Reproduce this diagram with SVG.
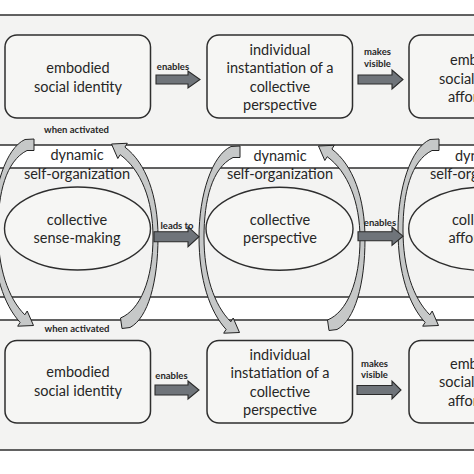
<svg xmlns="http://www.w3.org/2000/svg" width="474" height="474" viewBox="0 0 474 474">
<style>
.band{fill:#f3f3f2}
.hl{stroke:#2e2e2e;stroke-width:1.6;fill:none}
.box{fill:#f6f6f4;stroke:#2e2e2e;stroke-width:1.5}
.ell{fill:#f6f6f4;stroke:#2e2e2e;stroke-width:1.4}
.t{font-family:Lato,"Liberation Sans",sans-serif;font-size:14.5px;fill:#262626;text-anchor:middle}
.ts{font-family:Lato,"Liberation Sans",sans-serif;font-size:14.5px;fill:#262626;text-anchor:start}
.lab{font-family:Lato,"Liberation Sans",sans-serif;font-size:9.5px;font-weight:bold;fill:#262626;text-anchor:middle}
.blk{fill:#6f747a;stroke:#2a2a2a;stroke-width:1.1}
.crv{fill:#c6c8c8;stroke:#222;stroke-width:1}
</style>
<defs>
<path id="arcL" class="crv" d="M 240,146 L 231,146.5 C 212,155 199,195 199,237 C 199,280 210,312 226.1,329.4 L 223.7,333.2 L 239.5,332.5 L 233.2,318 L 230.8,321.8 C 214,305 204,275 204,237 C 204,200 212,168 233,157.5 L 240,157.5 Z"/>
<path id="arcR" class="crv" d="M 122,328.5 L 130,327.5 C 148,318 158,282 158,237 C 158,196 146,163 124.9,147.1 L 127.3,143.25 L 111.5,144 L 117.8,158.5 L 120.2,154.7 C 141,170 153,200 153,237 C 153,280 140,310 120.5,318 Z"/>
</defs>
<rect width="474" height="474" fill="#ffffff"/>
<g id="bands">
<rect class="band" x="-5" y="15" width="484" height="130"/>
<rect class="band" x="-5" y="168" width="484" height="129"/>
<rect class="band" x="-5" y="320" width="484" height="130"/>
<line class="hl" x1="-5" y1="15" x2="479" y2="15"/>
<line class="hl" x1="-5" y1="145" x2="479" y2="145"/>
<line class="hl" x1="-5" y1="168" x2="479" y2="168"/>
<line class="hl" x1="-5" y1="297" x2="479" y2="297"/>
<line class="hl" x1="-5" y1="320" x2="479" y2="320"/>
<line class="hl" x1="-5" y1="450" x2="479" y2="450"/>
</g>
<g id="top-embodied-social-identity">
<rect class="box" x="5" y="35" width="145.5" height="83" rx="12"/>
<text class="t" x="78" y="72.5">embodied</text>
<text class="t" x="78" y="91.5">social identity</text>
</g>
<g id="top-individual-instantiation">
<rect class="box" x="207" y="35" width="145.5" height="83" rx="12"/>
<text class="t" x="280" y="54.5">individual</text>
<text class="t" x="280" y="73">instantiation of a</text>
<text class="t" x="280" y="91.5">collective</text>
<text class="t" x="280" y="110">perspective</text>
</g>
<g id="top-embodied-social-affordances">
<rect class="box" x="409" y="35" width="145.5" height="83" rx="12"/>
<text class="ts" x="450" y="65">embodied</text>
<text class="ts" x="439" y="83.5">social</text>
<text class="ts" x="448" y="102">affordances</text>
</g>
<g id="mid-collective-sense-making">
<text class="t" x="77" y="160">dynamic</text>
<text class="t" x="77" y="179.3">self-organization</text>
<ellipse class="ell" cx="77.5" cy="228.5" rx="73" ry="41.5"/>
<text class="t" x="77" y="225">collective</text>
<text class="t" x="77" y="243.3">sense-making</text>
</g>
<g id="mid-collective-perspective">
<text class="t" x="280" y="160.5">dynamic</text>
<text class="t" x="280" y="179.3">self-organization</text>
<ellipse class="ell" cx="279.5" cy="228.8" rx="73.5" ry="41.5"/>
<text class="t" x="280" y="224.5">collective</text>
<text class="t" x="280" y="243.3">perspective</text>
</g>
<g id="mid-collective-affordances">
<text class="ts" x="455" y="160.5">dynamic</text>
<text class="ts" x="430" y="179.3">self-organization</text>
<ellipse class="ell" cx="482" cy="228.8" rx="73.3" ry="41.5"/>
<text class="ts" x="452" y="224.5">collective</text>
<text class="ts" x="448.5" y="243.3">affordances</text>
</g>
<g id="bottom-embodied-social-identity">
<rect class="box" x="5" y="340.5" width="145.5" height="82.5" rx="12"/>
<text class="t" x="78" y="377.3">embodied</text>
<text class="t" x="78" y="396">social identity</text>
</g>
<g id="bottom-individual-instatiation">
<rect class="box" x="207" y="340.5" width="145.5" height="82.5" rx="12"/>
<text class="t" x="280" y="359.5">individual</text>
<text class="t" x="280" y="378">instatiation of a</text>
<text class="t" x="280" y="396.5">collective</text>
<text class="t" x="280" y="415">perspective</text>
</g>
<g id="bottom-embodied-social-affordances">
<rect class="box" x="409" y="340.5" width="145.5" height="82.5" rx="12"/>
<text class="ts" x="450" y="368.5">embodied</text>
<text class="ts" x="439" y="387">social</text>
<text class="ts" x="448" y="405.5">affordances</text>
</g>
<g id="connectors">
<use href="#arcL" transform="translate(-206,-7)"/>
<use href="#arcL"/>
<use href="#arcL" transform="translate(199,-7)"/>
<use href="#arcR"/>
<use href="#arcR" transform="translate(207,2)"/>
<polygon class="blk" points="156,75 188,75 188,71 200,79.5 188,88 188,84 156,84"/>
<polygon class="blk" points="358,75 392,75 392,70 403,79.5 392,89 392,84 358,84"/>
<polygon class="blk" points="154,231.7 188,231.7 188,226.7 199,236.7 188,246.7 188,241.7 154,241.7"/>
<polygon class="blk" points="358,231.7 392,231.7 392,227 403,236.2 392,245.4 392,240.7 358,240.7"/>
<polygon class="blk" points="155,385 188,385 188,381 199,390 188,399 188,395 155,395"/>
<polygon class="blk" points="357,385.5 392,385.5 392,381 401,390 392,399 392,394.5 357,394.5"/>
<text class="lab" x="173" y="70">enables</text>
<text class="lab" x="377.5" y="55">makes</text>
<text class="lab" x="377.5" y="66.7">visible</text>
<text class="lab" x="76.5" y="133">when activated</text>
<text class="lab" x="177" y="229">leads to</text>
<text class="lab" x="380" y="226">enables</text>
<text class="lab" x="77" y="332">when activated</text>
<text class="lab" x="171.5" y="379">enables</text>
<text class="lab" x="374.5" y="366.5">makes</text>
<text class="lab" x="374.5" y="378">visible</text>
</g>
</svg>
